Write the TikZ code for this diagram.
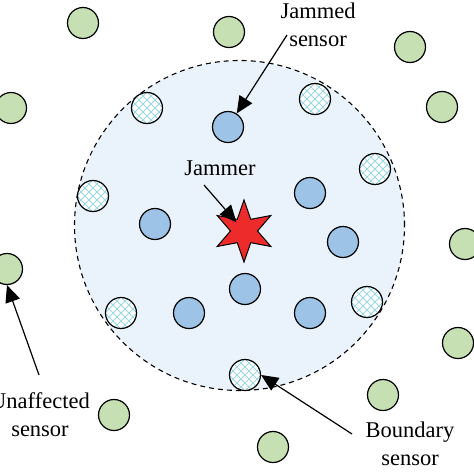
\documentclass[tikz,border=0pt]{standalone}
\usepackage{fontspec}
\setmainfont{Liberation Serif}
\usetikzlibrary{arrows.meta,shapes.geometric}
\definecolor{unaff}{HTML}{C6E0B4}
\definecolor{jamblue}{HTML}{9DC3E6}
\definecolor{zone}{HTML}{EAF3FB}
\definecolor{jamred}{HTML}{EE2B2B}
\definecolor{hatchc}{HTML}{9ED8E4}
\tikzset{
  sensor/.style={circle,draw=black,line width=1.2pt,minimum size=31pt,inner sep=0pt},
  unaffected/.style={sensor,fill=unaff},
  jammed/.style={sensor,fill=jamblue},
  boundary/.style={sensor,fill=white,path picture={
    \foreach \k in {-32,-24,...,32}{
      \draw[hatchc,line width=1pt] ([xshift=\k pt]path picture bounding box.center) +(-20pt,-20pt) -- +(20pt,20pt);
      \draw[hatchc,line width=1pt] ([xshift=\k pt]path picture bounding box.center) +(-20pt,20pt) -- +(20pt,-20pt);
    }}},
  lbl/.style={font=\fontsize{22.5}{27.5}\selectfont,align=center,anchor=base,inner sep=0pt},
  pointer/.style={line width=1.2pt,-{Triangle[length=17pt,width=15pt]}},
}
\begin{document}
\begin{tikzpicture}[x=1pt,y=-1pt]
\useasboundingbox (0,0) rectangle (474,474);
\clip (0,0) rectangle (474,474);
% jamming zone
\node[circle,minimum size=330pt,inner sep=0pt,fill=zone,draw=black,dashed,dash pattern=on 5pt off 4pt,line width=1.1pt] (zone) at (239.5,225.5) {};
% unaffected sensors
\node[unaffected] (g1) at (83,23) {};
\node[unaffected] (g2) at (229,32) {};
\node[unaffected] (g3) at (410,47) {};
\node[unaffected] (g4) at (11,108) {};
\node[unaffected] (g5) at (442,107) {};
\node[unaffected] (g6) at (465,244) {};
\node[unaffected] (g7) at (7,269) {};
\node[unaffected] (g8) at (458,343) {};
\node[unaffected] (g9) at (383,395) {};
\node[unaffected] (g10) at (114,415) {};
\node[unaffected] (g11) at (273,447) {};
% jammed sensors
\node[jammed] (b1) at (228,127) {};
\node[jammed] (b2) at (310,193) {};
\node[jammed] (b3) at (155,224) {};
\node[jammed] (b4) at (343,242) {};
\node[jammed] (b5) at (245,289) {};
\node[jammed] (b6) at (189,313) {};
\node[jammed] (b7) at (310,313) {};
% boundary sensors
\node[boundary] (d1) at (147,108) {};
\node[boundary] (d2) at (315,99) {};
\node[boundary] (d3) at (375,169) {};
\node[boundary] (d4) at (93,196) {};
\node[boundary] (d5) at (121,313) {};
\node[boundary] (d6) at (367,302) {};
\node[boundary] (d7) at (245,375) {};
% jammer
\node[star,star points=6,star point ratio=2.3,minimum size=62pt,inner sep=0pt,fill=jamred,draw=black,line width=1pt] (jammer) at (244,231) {};
% labels (anchor base = baseline of the last line)
\node[lbl] (ljammed) at (318,46) {Jammed\\sensor};
\node[lbl] (ljammer) at (220,175) {Jammer};
\node[lbl] (lunaff) at (40,436) {Unaffected\\sensor};
\node[lbl] (lbound) at (410,465) {Boundary\\sensor};
% arrow tails
\coordinate (tjammed) at (287,35);
\coordinate (tjammer) at (204,185);
\coordinate (tunaff) at (39,375);
\coordinate (tbound) at (352,434);
\draw[pointer] (tjammed) -- (b1);
\draw[pointer,shorten >=11.5pt] (tjammer) -- (jammer.center);
\draw[pointer] (tunaff) -- (g7.south);
\draw[pointer] (tbound) -- (d7.east);
\end{tikzpicture}
\end{document}
